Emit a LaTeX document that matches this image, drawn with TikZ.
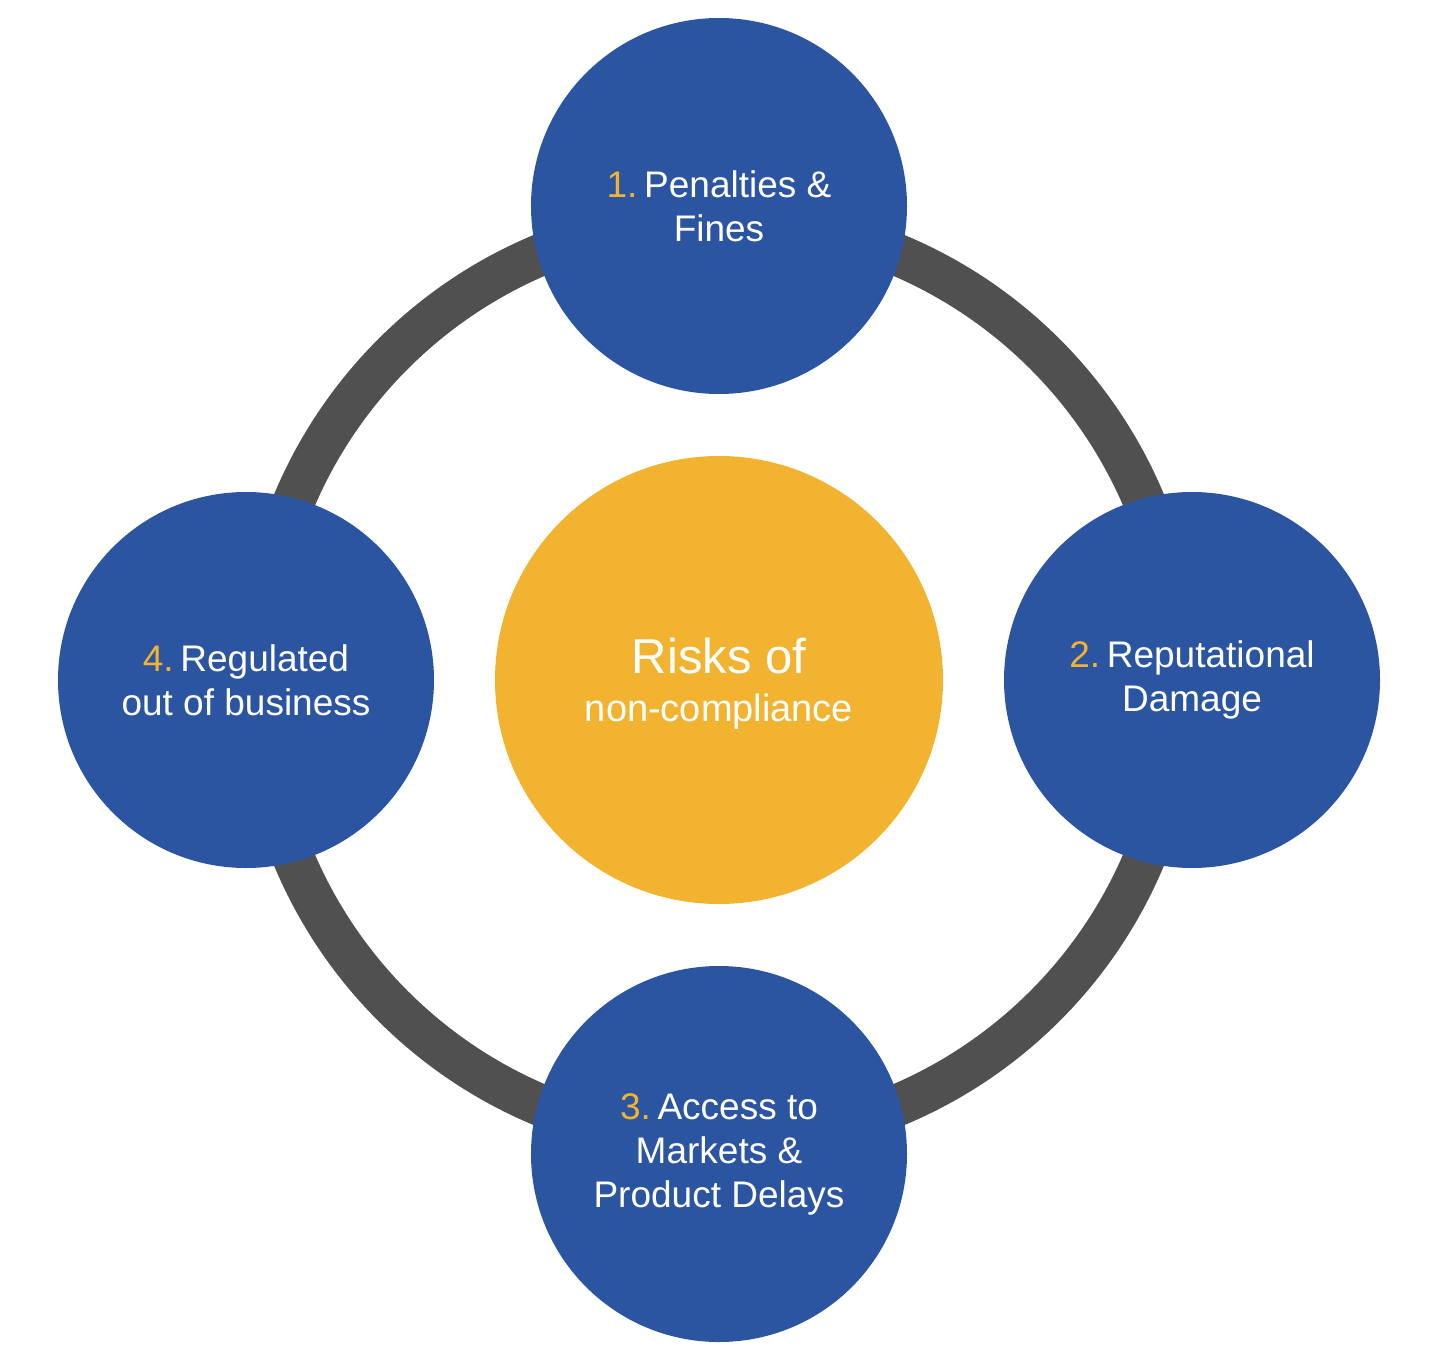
\documentclass[tikz,border=0pt]{standalone}
\usepackage{fontspec}
\setmainfont{Liberation Sans}
\definecolor{ringgray}{HTML}{505050}
\definecolor{nodeblue}{HTML}{2B54A1}
\definecolor{riskyellow}{HTML}{F2B430}
\begin{document}
\begin{tikzpicture}[x=1pt,y=-1pt,
  bluecirc/.style={circle,fill=nodeblue,minimum size=376pt,inner sep=0pt,text=white,align=center,font=\fontsize{37}{44}\selectfont},
  centercirc/.style={circle,fill=riskyellow,minimum size=448pt,inner sep=0pt,text=white,align=center,font=\fontsize{38}{48}\selectfont}]
\useasboundingbox (0,0) rectangle (1429,1346);
\coordinate (c) at (719,680);
\draw[ringgray,line width=42pt] (c) circle[radius=461pt];
\node[centercirc] (risk) at (719,680) {};
\node[text=white,align=center,font=\fontsize{38}{48}\selectfont] (risktext) at (719,684) {{\fontsize{49}{48}\selectfont Risks of}\\non-compliance};
\node[bluecirc] (n1) at (719,206) {\textcolor{riskyellow}{1.}\hspace{0.18em}Penalties \&\\Fines};
\node[bluecirc] (n2) at (1192,680) {\textcolor{riskyellow}{2.}\hspace{0.18em}Reputational\\Damage};
\node[bluecirc] (n3) at (719,1154) {\textcolor{riskyellow}{3.}\hspace{0.18em}Access to\\Markets \&\\Product Delays};
\node[bluecirc] (n4) at (246,680) {\textcolor{riskyellow}{4.}\hspace{0.18em}Regulated\\out of business};
\end{tikzpicture}
\end{document}
